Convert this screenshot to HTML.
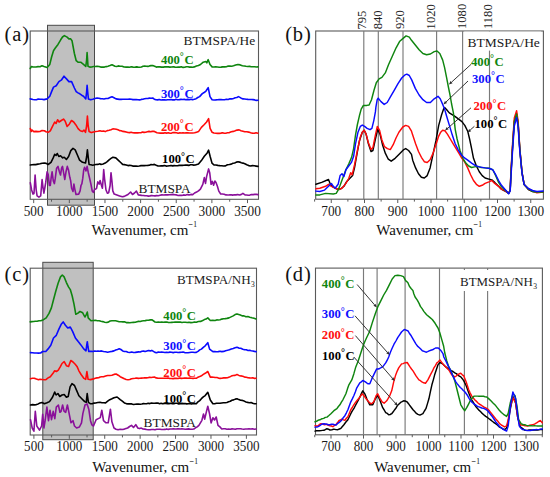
<!DOCTYPE html>
<html><head><meta charset="utf-8"><style>
html,body{margin:0;padding:0;background:#fff;}
svg{display:block;font-family:"Liberation Serif",serif;}
</style></head><body>
<svg width="550" height="477" viewBox="0 0 550 477">
<rect width="550" height="477" fill="#fff"/>
<rect x="47.5" y="25.3" width="47" height="179.9" fill="#c0c0c0" stroke="#4a4a4a" stroke-width="1"/>
<rect x="30.20" y="31.00" width="228.30" height="168.30" fill="none" stroke="#5a5a5a" stroke-width="1.1"/>
<line x1="33.70" y1="199.30" x2="33.70" y2="203.10" stroke="#5a5a5a" stroke-width="1"/>
<text x="0" y="0" transform="translate(33.70,215.50) scale(1,1.08)" font-size="13.3" text-anchor="middle" fill="#1a1a1a" >500</text>
<line x1="51.52" y1="199.30" x2="51.52" y2="201.70" stroke="#5a5a5a" stroke-width="1"/>
<line x1="69.34" y1="199.30" x2="69.34" y2="203.10" stroke="#5a5a5a" stroke-width="1"/>
<text x="0" y="0" transform="translate(69.34,215.50) scale(1,1.08)" font-size="13.3" text-anchor="middle" fill="#1a1a1a" >1000</text>
<line x1="87.15" y1="199.30" x2="87.15" y2="201.70" stroke="#5a5a5a" stroke-width="1"/>
<line x1="104.97" y1="199.30" x2="104.97" y2="203.10" stroke="#5a5a5a" stroke-width="1"/>
<text x="0" y="0" transform="translate(104.97,215.50) scale(1,1.08)" font-size="13.3" text-anchor="middle" fill="#1a1a1a" >1500</text>
<line x1="122.79" y1="199.30" x2="122.79" y2="201.70" stroke="#5a5a5a" stroke-width="1"/>
<line x1="140.61" y1="199.30" x2="140.61" y2="203.10" stroke="#5a5a5a" stroke-width="1"/>
<text x="0" y="0" transform="translate(140.61,215.50) scale(1,1.08)" font-size="13.3" text-anchor="middle" fill="#1a1a1a" >2000</text>
<line x1="158.42" y1="199.30" x2="158.42" y2="201.70" stroke="#5a5a5a" stroke-width="1"/>
<line x1="176.24" y1="199.30" x2="176.24" y2="203.10" stroke="#5a5a5a" stroke-width="1"/>
<text x="0" y="0" transform="translate(176.24,215.50) scale(1,1.08)" font-size="13.3" text-anchor="middle" fill="#1a1a1a" >2500</text>
<line x1="194.06" y1="199.30" x2="194.06" y2="201.70" stroke="#5a5a5a" stroke-width="1"/>
<line x1="211.88" y1="199.30" x2="211.88" y2="203.10" stroke="#5a5a5a" stroke-width="1"/>
<text x="0" y="0" transform="translate(211.88,215.50) scale(1,1.08)" font-size="13.3" text-anchor="middle" fill="#1a1a1a" >3000</text>
<line x1="229.69" y1="199.30" x2="229.69" y2="201.70" stroke="#5a5a5a" stroke-width="1"/>
<line x1="247.51" y1="199.30" x2="247.51" y2="203.10" stroke="#5a5a5a" stroke-width="1"/>
<text x="0" y="0" transform="translate(247.51,215.50) scale(1,1.08)" font-size="13.3" text-anchor="middle" fill="#1a1a1a" >3500</text>
<polyline points="30.2,68.5 31.5,66.5 33.0,67.0 36.0,67.0 38.0,66.6 40.0,66.8 42.0,65.8 44.0,66.6 47.1,67.6 49.8,64.4 51.6,57.0 53.5,50.7 55.3,48.0 58.0,44.4 60.7,39.8 62.5,37.0 64.4,35.6 67.1,37.1 68.9,38.9 70.7,38.9 72.0,40.7 74.4,53.5 76.2,60.7 78.0,62.2 80.7,62.2 83.5,64.4 85.8,66.5 86.6,60.0 87.1,52.5 87.6,60.0 88.0,66.2 89.8,67.1 91.7,67.0 93.5,66.5 95.3,66.5 97.1,66.2 98.9,66.5 100.7,67.1 102.6,67.1 104.4,67.1 106.2,66.6 108.0,66.2 110.0,65.6 112.0,64.7 115.0,66.3 116.7,66.5 118.3,65.9 120.0,66.2 122.1,66.2 124.1,67.0 126.2,67.1 127.9,67.1 129.6,67.3 131.3,66.8 133.1,67.1 134.8,67.3 136.5,66.9 138.2,67.1 139.8,67.2 141.4,67.0 143.0,66.3 144.6,66.1 146.3,66.3 147.9,66.4 149.5,65.9 151.1,65.6 152.7,65.6 154.6,66.3 156.4,67.1 158.1,66.8 159.8,66.9 161.5,67.1 163.2,67.1 164.9,66.9 166.5,66.9 168.2,66.9 169.9,67.1 171.6,67.0 173.3,66.8 175.0,67.1 176.6,67.3 178.2,67.1 179.8,67.1 181.4,66.8 183.0,67.4 184.7,67.3 186.3,66.7 187.9,66.8 189.5,67.1 191.1,67.1 192.7,67.2 194.3,66.9 196.4,66.0 198.4,65.5 200.5,64.5 203.2,62.2 205.8,61.5 206.8,62.8 208.2,59.7 210.0,64.5 212.1,66.9 213.9,67.0 215.7,66.8 217.5,67.0 219.2,67.2 221.0,67.1 222.8,66.9 224.6,66.9 226.4,66.7 228.2,66.1 229.9,66.1 231.7,66.2 233.5,65.8 235.7,65.1 237.9,64.5 240.2,64.9 242.4,65.8 244.2,66.0 246.0,66.3 247.7,66.5 249.5,66.4 251.3,66.7 253.0,66.7 254.7,66.8 256.3,67.0 258.0,66.9" fill="none" stroke="#0f850f" stroke-width="1.6" stroke-linejoin="round" stroke-linecap="round"/>
<polyline points="30.2,98.9 33.0,99.5 34.8,99.8 36.5,99.7 38.2,99.0 40.0,99.3 42.0,99.2 44.0,99.6 47.1,98.9 49.8,96.2 51.6,91.6 53.5,87.1 56.2,85.8 58.9,81.6 61.6,79.8 64.0,76.2 66.5,78.9 68.9,81.6 71.6,81.6 74.4,88.0 76.2,91.6 78.0,92.9 79.8,93.8 81.7,95.2 83.5,96.2 85.8,98.9 86.6,92.0 87.1,85.3 87.7,92.0 88.4,98.9 90.7,99.8 92.8,99.3 95.0,98.5 97.1,98.0 98.8,98.3 100.5,98.6 102.3,98.8 104.0,99.0 106.0,98.5 108.0,98.5 110.0,97.6 112.0,96.7 114.0,97.7 116.0,98.9 117.7,99.1 119.4,99.4 121.1,99.4 122.8,99.2 124.5,99.2 126.2,99.3 127.9,99.2 129.6,99.1 131.3,99.2 132.9,99.6 134.6,99.5 136.3,99.6 138.0,99.8 139.6,99.9 141.3,99.4 142.9,99.2 144.5,98.8 146.2,98.5 147.8,98.5 149.4,98.1 151.1,98.2 152.7,98.0 154.3,99.2 156.0,99.8 157.7,99.9 159.3,99.5 161.0,100.0 162.7,99.9 164.3,99.9 166.0,100.0 167.7,99.8 169.3,99.8 171.0,99.5 172.7,99.9 174.3,99.9 176.0,99.3 177.6,99.7 179.3,99.6 181.0,99.4 182.6,99.5 184.3,99.4 186.0,99.7 187.6,99.4 189.3,99.6 191.0,99.2 192.6,99.6 194.3,99.3 196.1,98.7 197.8,97.5 199.6,96.6 202.3,93.6 204.1,92.5 205.8,91.3 208.2,87.7 210.0,96.6 212.1,99.7 213.9,100.0 215.7,99.9 217.5,99.7 219.2,99.5 221.0,99.6 222.8,99.8 224.6,99.7 226.4,99.2 228.2,99.5 229.9,98.8 231.7,98.9 233.5,98.4 235.2,97.7 236.8,97.5 238.5,96.6 240.8,97.9 243.0,98.9 244.7,99.0 246.3,99.2 248.0,99.4 249.7,99.5 251.3,99.5 253.0,99.6 254.7,99.9 256.3,100.4 258.0,100.2" fill="none" stroke="#0a0aff" stroke-width="1.6" stroke-linejoin="round" stroke-linecap="round"/>
<polyline points="30.3,128.5 31.2,131.5 32.0,130.0 33.8,131.6 35.9,131.4 37.9,131.6 40.0,131.5 42.0,130.6 44.4,130.8 46.0,131.8 48.1,132.3 50.3,130.8 52.5,126.4 54.7,122.0 56.1,123.5 57.6,119.8 59.1,122.0 61.3,120.5 63.5,119.1 65.2,121.3 67.1,126.4 69.3,124.2 71.5,120.5 73.7,122.0 75.9,124.9 78.1,128.6 80.3,130.8 82.5,131.5 84.0,130.1 85.5,132.3 86.6,126.0 87.4,116.1 88.2,126.0 89.1,131.5 91.3,132.6 93.5,132.0 95.7,131.5 97.8,131.2 100.0,130.8 101.7,131.2 103.5,131.0 105.2,131.6 107.2,130.6 109.1,130.3 111.0,129.8 112.9,128.9 114.6,129.0 116.3,129.3 118.0,129.8 119.6,130.6 121.2,130.7 122.9,131.4 124.5,131.6 126.2,132.0 128.0,132.5 129.6,132.6 131.2,132.3 132.8,132.7 134.5,132.9 136.1,132.7 137.7,132.9 139.3,132.8 140.9,132.7 142.5,132.1 144.1,132.4 145.7,132.2 147.4,131.8 149.0,131.4 150.6,131.8 152.2,131.4 153.8,131.2 157.0,132.8 158.6,133.0 160.2,133.1 161.9,133.0 163.5,133.1 165.1,132.8 166.7,133.1 168.4,132.8 170.0,133.2 171.6,133.1 173.2,132.6 174.8,132.6 176.5,132.7 178.1,133.2 179.7,132.9 181.3,133.0 183.0,132.8 184.6,133.0 186.2,132.9 187.8,132.9 189.5,133.0 191.1,133.0 192.7,133.0 194.6,132.8 196.6,132.2 198.5,131.6 201.4,127.4 204.3,124.5 206.6,122.0 208.6,118.7 210.1,128.3 212.0,132.2 213.9,133.0 215.9,133.2 217.6,133.4 219.2,133.4 220.9,133.1 222.5,132.7 224.2,133.2 225.8,133.2 227.5,132.8 229.4,132.6 231.3,131.8 233.3,131.4 235.2,130.8 237.1,130.1 239.1,129.9 241.0,130.8 242.9,131.2 244.8,131.7 246.8,131.8 248.7,132.1 250.6,132.8 252.4,133.1 254.3,133.3 256.1,132.8 258.0,133.2" fill="none" stroke="#ff0a0a" stroke-width="1.6" stroke-linejoin="round" stroke-linecap="round"/>
<polyline points="30.3,165.0 32.1,164.7 33.9,164.5 35.7,164.6 37.9,164.1 40.0,163.8 42.2,163.2 44.4,163.0 46.2,163.4 48.1,164.5 51.0,162.3 53.2,157.9 54.7,154.3 56.1,155.4 57.3,153.5 58.8,156.5 60.5,155.7 62.7,157.9 64.2,157.2 66.4,159.4 68.6,156.5 70.8,150.6 73.0,148.4 75.2,149.9 77.4,155.0 79.6,160.1 82.5,162.3 85.5,163.0 86.6,157.0 87.4,149.9 88.2,157.0 89.1,164.5 90.9,164.8 92.8,165.2 95.7,164.5 97.8,164.4 100.0,163.8 101.0,164.5 103.1,164.0 105.2,163.1 107.2,161.6 109.1,159.8 111.0,158.4 112.9,157.3 115.8,157.9 118.7,160.6 120.7,162.5 122.6,164.4 124.4,164.6 126.2,165.0 128.0,165.6 129.6,165.4 131.2,165.5 132.8,166.1 134.5,166.1 136.1,166.1 137.7,166.2 139.3,166.0 141.0,165.6 142.7,165.5 144.3,165.6 146.0,165.5 147.7,165.4 149.4,165.2 151.0,164.5 152.7,164.7 154.4,164.4 156.2,165.3 158.0,166.0 159.6,166.0 161.2,165.7 162.9,165.9 164.5,165.5 166.1,166.1 167.7,166.0 169.4,165.7 171.0,165.5 172.6,165.9 174.2,165.6 175.8,165.8 177.5,165.7 179.1,165.4 180.7,165.3 182.3,165.4 183.9,165.3 185.6,165.0 187.2,165.1 188.8,165.4 190.4,164.8 192.1,164.8 193.7,165.1 195.3,165.0 198.5,164.1 201.4,160.6 204.3,156.3 207.2,152.9 208.6,150.2 210.1,156.3 212.0,163.1 214.0,165.0 215.9,165.0 217.8,165.4 219.8,165.6 221.7,165.7 223.6,166.0 225.5,165.9 227.4,164.8 229.4,164.5 231.3,164.1 233.0,163.3 234.7,163.0 236.4,162.1 238.1,161.7 239.7,162.1 241.3,162.8 242.9,163.1 244.8,163.8 246.8,164.8 248.7,165.6 250.6,166.0 252.4,165.6 254.3,165.8 256.1,166.1 258.0,166.4" fill="none" stroke="#000000" stroke-width="1.6" stroke-linejoin="round" stroke-linecap="round"/>
<polyline points="30.3,182.7 31.6,190.0 33.0,194.1 34.0,193.5 35.1,175.0 36.2,190.0 37.1,195.9 38.9,197.1 40.7,195.9 42.1,179.5 43.0,187.3 43.9,193.2 44.8,188.0 45.7,182.7 47.1,171.8 48.2,174.5 49.4,185.5 50.3,185.5 51.2,177.3 52.1,171.8 53.3,180.9 54.4,183.6 55.3,178.2 56.6,168.2 58.0,166.4 59.4,171.8 60.5,175.0 61.6,168.2 62.5,166.4 63.6,172.7 64.8,179.5 66.0,171.8 67.3,166.4 68.5,170.0 69.8,177.3 70.7,180.9 71.6,188.2 73.0,191.4 73.9,184.1 74.8,189.1 76.0,194.5 78.7,194.1 80.1,190.9 81.0,185.5 81.9,183.6 82.8,178.2 83.7,170.0 84.6,167.3 86.0,170.9 87.1,166.4 88.3,172.7 89.6,178.2 91.0,184.5 92.2,190.9 93.3,192.3 94.6,189.5 96.5,188.6 97.8,181.8 99.2,184.1 100.1,180.5 101.5,185.5 102.4,188.2 103.3,176.4 103.7,169.5 104.6,179.1 106.0,190.0 107.4,193.2 108.7,192.7 110.1,185.5 111.0,172.7 111.9,180.9 112.8,190.9 114.2,194.1 116.9,195.0 119.6,195.9 122.4,196.8 124.2,196.4 126.0,195.5 128.0,194.5 130.6,192.0 132.5,194.5 134.5,193.0 136.4,191.1 138.3,194.9 140.0,195.1 141.6,195.4 143.3,195.5 145.0,195.8 146.7,195.8 148.3,196.1 150.0,195.9 151.7,195.5 153.3,195.7 155.0,195.9 156.7,195.6 158.3,195.7 160.0,195.3 161.9,194.9 163.7,195.0 165.6,194.8 167.5,194.9 169.3,194.8 171.2,194.6 173.0,194.4 174.7,194.7 176.5,194.9 178.2,195.5 180.0,195.3 181.8,195.4 183.6,194.9 185.4,195.2 187.3,194.6 189.1,194.9 190.9,194.4 192.7,194.6 194.6,193.0 196.6,192.0 198.5,190.9 200.4,189.2 202.8,184.3 204.3,177.6 205.5,183.4 206.6,176.6 208.6,168.9 209.7,172.7 211.1,184.3 212.4,181.4 213.6,185.3 214.9,181.0 216.0,182.5 217.4,186.3 218.8,191.1 220.7,194.0 222.4,194.0 224.2,194.2 225.9,194.9 227.7,195.0 229.4,194.9 231.1,194.7 232.7,195.1 234.4,194.8 236.0,194.9 237.7,194.5 239.3,195.0 241.0,194.6 242.9,193.4 245.0,194.9 246.6,195.0 248.2,195.2 249.9,195.1 251.5,194.6 253.1,194.6 254.8,194.4 256.4,194.4 258.0,194.6" fill="none" stroke="#8a109a" stroke-width="1.6" stroke-linejoin="round" stroke-linecap="round"/>
<text x="183.50" y="44.90" font-size="13.4" text-anchor="start" fill="#1a1a1a" >BTMSPA/He</text>
<text x="0" y="0" transform="translate(160.90,64.00) scale(1,1.04)" font-size="12.7" text-anchor="start" fill="#0f850f" font-weight="bold" >400<tspan font-size="10" dx="-0.1" dy="-3.4">&#176;</tspan><tspan dx="0.6" dy="3.4">C</tspan></text>
<text x="0" y="0" transform="translate(160.90,97.50) scale(1,1.04)" font-size="12.7" text-anchor="start" fill="#1010ff" font-weight="bold" >300<tspan font-size="10" dx="-0.1" dy="-3.4">&#176;</tspan><tspan dx="0.6" dy="3.4">C</tspan></text>
<text x="0" y="0" transform="translate(160.90,130.70) scale(1,1.04)" font-size="12.7" text-anchor="start" fill="#ff1010" font-weight="bold" >200<tspan font-size="10" dx="-0.1" dy="-3.4">&#176;</tspan><tspan dx="0.6" dy="3.4">C</tspan></text>
<text x="0" y="0" transform="translate(162.10,163.40) scale(1,1.04)" font-size="12.7" text-anchor="start" fill="#000000" font-weight="bold" >100<tspan font-size="10" dx="-0.1" dy="-3.4">&#176;</tspan><tspan dx="0.6" dy="3.4">C</tspan></text>
<text x="138.50" y="193.20" font-size="13.35" text-anchor="start" fill="#1a1a1a" >BTMSPA</text>
<text x="4.60" y="41.00" font-size="20.5" text-anchor="start" fill="#111" letter-spacing="0.85">(a)</text>
<text x="0" y="0" transform="translate(91.40,235.30) scale(1,1.04)" font-size="14.95" text-anchor="start" fill="#111" >Wavenumer, cm<tspan font-size="8.2" font-weight="bold" dx="0.2" dy="-7.6">&#8722;</tspan><tspan font-size="7.6" dx="0.1">1</tspan></text>
<rect x="42.8" y="262.3" width="50.4" height="177.4" fill="#c0c0c0" stroke="#4a4a4a" stroke-width="1"/>
<rect x="30.20" y="268.20" width="226.30" height="166.80" fill="none" stroke="#5a5a5a" stroke-width="1.1"/>
<line x1="33.90" y1="435.00" x2="33.90" y2="438.80" stroke="#5a5a5a" stroke-width="1"/>
<text x="0" y="0" transform="translate(33.90,450.70) scale(1,1.04)" font-size="13.1" text-anchor="middle" fill="#1a1a1a" >500</text>
<line x1="51.61" y1="435.00" x2="51.61" y2="437.40" stroke="#5a5a5a" stroke-width="1"/>
<line x1="69.31" y1="435.00" x2="69.31" y2="438.80" stroke="#5a5a5a" stroke-width="1"/>
<text x="0" y="0" transform="translate(69.31,450.70) scale(1,1.04)" font-size="13.1" text-anchor="middle" fill="#1a1a1a" >1000</text>
<line x1="87.02" y1="435.00" x2="87.02" y2="437.40" stroke="#5a5a5a" stroke-width="1"/>
<line x1="104.73" y1="435.00" x2="104.73" y2="438.80" stroke="#5a5a5a" stroke-width="1"/>
<text x="0" y="0" transform="translate(104.73,450.70) scale(1,1.04)" font-size="13.1" text-anchor="middle" fill="#1a1a1a" >1500</text>
<line x1="122.44" y1="435.00" x2="122.44" y2="437.40" stroke="#5a5a5a" stroke-width="1"/>
<line x1="140.15" y1="435.00" x2="140.15" y2="438.80" stroke="#5a5a5a" stroke-width="1"/>
<text x="0" y="0" transform="translate(140.15,450.70) scale(1,1.04)" font-size="13.1" text-anchor="middle" fill="#1a1a1a" >2000</text>
<line x1="157.85" y1="435.00" x2="157.85" y2="437.40" stroke="#5a5a5a" stroke-width="1"/>
<line x1="175.56" y1="435.00" x2="175.56" y2="438.80" stroke="#5a5a5a" stroke-width="1"/>
<text x="0" y="0" transform="translate(175.56,450.70) scale(1,1.04)" font-size="13.1" text-anchor="middle" fill="#1a1a1a" >2500</text>
<line x1="193.27" y1="435.00" x2="193.27" y2="437.40" stroke="#5a5a5a" stroke-width="1"/>
<line x1="210.98" y1="435.00" x2="210.98" y2="438.80" stroke="#5a5a5a" stroke-width="1"/>
<text x="0" y="0" transform="translate(210.98,450.70) scale(1,1.04)" font-size="13.1" text-anchor="middle" fill="#1a1a1a" >3000</text>
<line x1="228.68" y1="435.00" x2="228.68" y2="437.40" stroke="#5a5a5a" stroke-width="1"/>
<line x1="246.39" y1="435.00" x2="246.39" y2="438.80" stroke="#5a5a5a" stroke-width="1"/>
<text x="0" y="0" transform="translate(246.39,450.70) scale(1,1.04)" font-size="13.1" text-anchor="middle" fill="#1a1a1a" >3500</text>
<polyline points="30.2,321.9 31.9,321.6 33.6,321.5 35.3,321.2 37.1,321.3 39.0,320.8 40.8,320.7 43.5,319.7 46.2,317.9 49.0,313.4 51.4,307.9 53.5,299.7 55.7,291.5 58.1,283.2 60.5,276.9 62.3,275.0 64.1,276.9 66.3,282.3 68.5,286.9 70.3,289.6 72.2,296.0 74.0,304.2 75.8,314.3 77.6,313.4 80.0,311.5 82.7,312.8 84.9,317.0 86.4,314.3 87.3,312.1 88.2,317.9 91.0,320.7 93.2,320.5 95.5,320.3 97.3,320.7 99.2,320.7 101.0,321.2 102.8,321.6 104.7,322.2 106.5,322.5 108.3,322.1 110.1,321.0 111.9,320.7 113.7,320.7 115.6,320.7 117.4,321.2 119.2,321.7 121.1,321.8 122.9,321.9 124.6,321.8 126.3,322.6 128.0,322.5 129.8,322.8 131.7,322.5 133.5,322.4 135.3,322.3 137.0,321.8 138.6,321.4 140.2,321.5 141.9,321.0 143.6,320.8 145.2,320.6 146.9,320.2 148.5,320.2 150.2,319.9 151.8,319.7 155.0,322.0 156.7,322.3 158.4,322.0 160.0,322.2 161.7,322.1 163.4,322.2 165.1,322.1 166.8,322.0 168.5,322.5 170.1,322.5 171.8,322.4 173.5,322.3 175.2,322.1 176.9,322.0 178.6,322.1 180.2,322.0 181.9,322.5 183.6,322.3 185.4,322.2 187.2,322.5 189.0,322.2 190.9,322.6 192.7,322.5 194.5,322.0 196.3,322.3 198.4,321.5 200.6,321.4 202.7,320.5 204.4,319.6 206.1,319.1 207.8,317.9 210.3,320.5 212.7,320.4 215.0,320.5 216.7,319.9 218.4,320.0 220.1,319.8 221.8,319.1 223.5,318.7 225.2,318.6 226.9,318.4 229.0,317.9 231.1,316.9 233.2,315.9 235.1,314.6 237.0,313.9 238.7,314.4 240.4,315.0 242.1,315.9 244.0,315.9 245.9,316.8 247.9,316.6 249.8,317.2 251.9,317.8 254.0,318.3 256.1,318.9" fill="none" stroke="#0f850f" stroke-width="1.6" stroke-linejoin="round" stroke-linecap="round"/>
<polyline points="30.5,352.6 32.5,352.7 34.4,353.0 36.4,353.0 38.5,353.1 40.6,353.0 42.7,351.5 45.8,351.5 48.1,348.9 50.8,345.3 53.5,338.0 56.3,335.3 59.0,328.9 61.2,324.3 63.2,321.9 65.4,325.2 67.8,328.0 70.3,327.0 72.7,331.6 75.4,338.0 78.2,341.6 80.9,344.9 83.7,348.9 86.0,350.8 86.6,346.0 87.3,341.7 88.0,347.0 88.8,351.5 90.9,351.2 93.0,351.5 94.7,351.0 96.4,351.2 98.0,351.0 99.7,351.2 101.4,350.9 103.5,351.5 105.6,351.8 107.7,352.2 109.8,351.8 111.9,351.4 114.0,350.9 115.7,350.0 117.5,349.5 119.2,348.8 120.9,349.5 122.7,350.9 124.4,351.5 126.2,351.5 128.0,352.2 129.8,352.5 131.7,352.0 133.5,352.5 135.3,352.4 137.0,352.1 138.6,351.9 140.2,352.0 141.9,351.3 143.6,351.1 145.2,351.5 146.9,351.0 148.5,350.5 150.2,350.9 151.8,350.4 155.0,352.4 156.7,352.7 158.3,352.1 160.0,352.3 161.6,352.1 163.3,352.3 164.9,352.5 166.6,352.2 168.2,352.5 169.9,352.1 171.5,352.2 173.2,352.6 174.8,352.3 176.5,352.3 178.1,352.5 179.8,352.4 181.4,352.3 183.1,352.1 184.7,352.6 186.4,352.7 188.0,352.7 189.7,352.5 191.3,352.3 193.0,352.3 194.6,352.5 196.3,352.4 198.0,351.4 199.7,349.9 201.4,349.1 203.3,347.3 205.2,345.8 207.8,342.7 209.6,349.1 211.2,350.3 212.9,351.6 214.7,351.6 216.5,351.8 218.2,351.6 220.0,351.3 221.8,351.6 223.7,351.4 225.6,350.7 227.5,350.3 229.4,349.8 231.3,349.0 233.2,348.5 235.1,347.8 237.0,347.3 238.9,348.1 240.8,348.3 242.8,349.2 244.7,349.8 246.3,349.8 248.0,350.5 249.6,350.2 251.2,350.7 252.8,351.0 254.5,351.4 256.1,351.6" fill="none" stroke="#0a0aff" stroke-width="1.6" stroke-linejoin="round" stroke-linecap="round"/>
<polyline points="30.5,378.8 32.4,378.3 34.3,378.2 36.4,379.1 38.5,379.8 40.0,379.3 42.0,379.5 43.9,379.7 45.9,379.6 48.1,377.9 50.3,376.7 53.2,373.0 54.7,370.8 56.4,371.5 58.3,370.1 60.5,366.4 62.0,363.5 64.2,361.7 66.4,365.7 68.6,366.4 70.8,360.5 73.0,362.0 75.2,364.2 77.0,366.4 78.9,370.8 81.1,374.5 84.0,378.4 85.7,379.3 86.9,371.5 88.1,379.3 90.6,379.6 93.5,378.9 95.2,378.3 97.0,377.9 98.7,377.8 99.3,377.3 101.4,376.7 103.5,376.7 105.6,376.1 107.7,375.5 109.8,375.5 111.9,375.2 114.0,374.4 116.1,374.0 118.2,375.2 120.2,376.7 122.3,377.7 124.4,378.8 126.2,379.5 128.0,379.8 129.8,379.5 131.5,378.7 133.2,378.5 135.0,378.3 136.6,378.0 138.2,378.4 139.8,378.2 141.5,378.1 143.1,378.0 144.7,377.9 146.3,377.9 147.9,377.7 149.6,377.2 151.2,377.5 152.8,377.2 154.4,377.1 156.2,377.9 158.0,378.3 159.7,378.3 161.3,378.3 163.0,378.2 164.7,378.3 166.3,378.2 168.0,378.0 169.7,378.5 171.3,378.5 173.0,378.6 174.7,378.4 176.3,378.3 178.0,378.5 179.6,378.0 181.3,378.4 183.0,378.3 184.6,378.1 186.3,378.1 188.0,378.3 189.6,378.1 191.3,378.3 193.0,378.4 194.6,378.2 196.3,378.3 198.0,377.2 199.7,376.6 201.4,375.8 203.3,374.4 205.2,373.3 207.8,371.5 210.3,377.1 211.9,377.1 213.6,377.2 215.2,377.5 216.9,377.5 218.5,378.1 220.2,378.4 221.8,378.3 223.7,377.9 225.6,377.9 227.5,377.7 229.4,377.1 231.3,376.1 233.2,375.5 235.1,375.4 237.0,374.5 238.9,375.4 240.8,375.9 242.8,376.2 244.7,377.1 246.3,377.2 248.0,377.7 249.6,377.9 251.2,378.0 252.8,377.7 254.5,378.4 256.1,378.3" fill="none" stroke="#ff0a0a" stroke-width="1.6" stroke-linejoin="round" stroke-linecap="round"/>
<polyline points="30.5,405.0 32.5,404.6 34.4,404.9 36.4,404.6 38.2,403.9 40.0,403.0 42.0,402.5 44.4,403.8 47.0,402.8 49.5,401.6 52.5,397.2 54.7,392.1 56.1,395.0 57.9,393.5 59.8,396.5 62.0,395.0 64.2,394.5 66.4,397.2 68.2,396.5 70.1,386.9 72.0,383.7 74.5,385.5 76.7,390.6 78.9,395.7 81.8,398.7 84.7,401.6 86.2,402.3 87.2,393.5 88.4,402.3 90.6,403.8 92.3,403.8 94.0,403.1 95.7,403.0 97.8,402.5 100.0,402.3 101.9,402.7 103.7,402.8 105.6,402.9 107.7,401.2 109.8,399.7 111.9,398.8 114.0,397.7 117.1,397.0 120.2,399.7 122.3,401.2 124.4,402.9 126.2,403.6 128.0,403.9 129.8,403.7 131.7,403.9 133.5,404.5 135.3,404.3 136.9,404.1 138.5,404.0 140.2,404.2 141.8,404.0 143.4,403.6 145.0,403.8 146.6,403.8 148.2,403.3 149.9,403.6 151.5,403.1 153.1,403.3 154.7,403.2 156.3,403.0 157.9,403.1 159.5,403.7 161.1,403.3 162.7,403.8 164.3,403.4 165.9,403.5 167.5,403.7 169.1,403.6 170.7,403.2 172.3,403.6 173.9,403.6 175.5,403.3 177.1,403.3 178.7,403.9 180.3,403.6 181.9,403.4 183.5,403.6 185.1,403.5 186.7,403.9 188.3,403.7 189.9,403.4 191.5,404.0 193.1,403.5 194.7,403.6 196.3,403.8 198.0,401.8 199.7,400.6 201.4,398.7 203.3,396.9 205.2,395.6 207.8,392.3 210.3,400.0 212.9,403.8 214.7,403.7 216.4,403.2 218.2,403.3 219.9,403.3 221.7,403.0 223.4,402.8 225.2,402.7 226.9,402.5 228.6,401.8 230.3,401.3 231.9,400.3 233.6,399.9 235.3,399.1 237.0,398.7 238.8,399.6 240.6,400.3 242.4,400.4 244.2,401.1 246.0,402.0 247.7,402.4 249.4,402.7 251.1,402.6 252.7,403.3 254.4,403.8 256.1,403.8" fill="none" stroke="#000000" stroke-width="1.6" stroke-linejoin="round" stroke-linecap="round"/>
<polyline points="30.5,419.7 32.2,428.0 33.9,431.2 35.3,411.3 36.8,426.0 39.5,430.1 41.6,426.0 42.7,414.4 43.9,428.0 45.2,420.0 46.9,407.1 48.5,420.7 50.0,410.2 51.5,419.7 53.2,411.3 54.8,418.6 56.3,407.1 58.4,405.0 59.9,412.3 61.1,411.3 62.6,405.0 64.1,411.3 65.7,412.3 67.4,405.0 68.9,412.3 71.0,422.8 73.0,420.7 74.5,426.0 76.6,428.0 79.4,427.0 81.5,422.8 82.9,413.4 85.0,405.0 87.1,403.9 88.8,409.2 90.5,420.7 91.9,424.9 93.5,426.0 96.1,419.7 98.3,418.6 100.3,417.6 101.8,410.2 103.5,420.7 106.0,422.8 108.2,422.8 110.4,409.2 111.9,421.8 114.0,428.0 116.0,429.2 118.1,429.7 120.2,429.2 122.3,429.5 124.4,429.1 127.6,428.0 129.6,426.5 131.5,425.4 133.5,427.5 135.8,424.7 137.8,428.0 139.5,428.6 141.3,428.1 143.0,429.0 144.8,429.1 146.5,429.5 148.3,429.8 150.0,429.7 151.7,429.5 153.3,429.5 155.0,429.7 156.7,429.3 158.3,429.2 160.0,429.2 161.7,429.5 163.3,429.5 165.0,429.4 166.7,428.9 168.3,429.4 170.0,429.0 171.7,429.0 173.4,428.8 175.1,429.0 176.8,428.9 178.5,428.7 180.2,429.0 181.9,428.9 183.6,429.0 185.3,429.3 187.0,429.1 188.7,428.9 190.4,429.3 192.1,429.3 193.8,429.0 195.5,427.8 197.2,426.9 198.9,425.4 201.9,420.3 203.5,414.0 204.7,419.1 206.5,411.4 207.8,406.3 209.6,414.0 211.1,422.9 212.9,417.8 214.5,420.0 216.2,417.0 218.0,425.4 219.9,426.9 221.8,429.0 223.5,428.7 225.2,428.8 226.9,429.3 228.6,429.1 230.3,429.2 232.0,428.9 233.7,429.0 235.3,429.3 237.0,428.7 238.7,428.7 240.4,428.7 242.1,429.0 243.8,429.2 245.5,429.0 247.2,429.0 249.0,428.9 250.8,429.0 252.5,428.8 254.3,429.3 256.1,429.0" fill="none" stroke="#8a109a" stroke-width="1.6" stroke-linejoin="round" stroke-linecap="round"/>
<text x="177.00" y="284.20" font-size="13.1" text-anchor="start" fill="#1a1a1a" >BTMSPA/NH<tspan font-size="7.6" dx="0.3" dy="3.2">3</tspan></text>
<text x="0" y="0" transform="translate(163.30,319.70) scale(1,1.04)" font-size="12.7" text-anchor="start" fill="#0f850f" font-weight="bold" >400<tspan font-size="10" dx="-0.1" dy="-3.4">&#176;</tspan><tspan dx="0.6" dy="3.4">C</tspan></text>
<text x="0" y="0" transform="translate(163.30,350.30) scale(1,1.04)" font-size="12.7" text-anchor="start" fill="#1010ff" font-weight="bold" >300<tspan font-size="10" dx="-0.1" dy="-3.4">&#176;</tspan><tspan dx="0.6" dy="3.4">C</tspan></text>
<text x="0" y="0" transform="translate(163.30,376.60) scale(1,1.04)" font-size="12.7" text-anchor="start" fill="#ff1010" font-weight="bold" >200<tspan font-size="10" dx="-0.1" dy="-3.4">&#176;</tspan><tspan dx="0.6" dy="3.4">C</tspan></text>
<text x="0" y="0" transform="translate(163.30,402.50) scale(1,1.04)" font-size="12.7" text-anchor="start" fill="#000000" font-weight="bold" >100<tspan font-size="10" dx="-0.1" dy="-3.4">&#176;</tspan><tspan dx="0.6" dy="3.4">C</tspan></text>
<text x="143.60" y="426.60" font-size="13.35" text-anchor="start" fill="#1a1a1a" >BTMSPA</text>
<text x="4.60" y="281.40" font-size="20.5" text-anchor="start" fill="#111" letter-spacing="0.85">(c)</text>
<text x="0" y="0" transform="translate(92.20,471.80) scale(1,1.04)" font-size="14.95" text-anchor="start" fill="#111" >Wavenumer, cm<tspan font-size="8.2" font-weight="bold" dx="0.2" dy="-7.6">&#8722;</tspan><tspan font-size="7.6" dx="0.1">1</tspan></text>
<rect x="315.70" y="31.00" width="227.70" height="168.20" fill="none" stroke="#5a5a5a" stroke-width="1.1"/>
<line x1="314.62" y1="199.20" x2="314.62" y2="201.60" stroke="#5a5a5a" stroke-width="1"/>
<line x1="331.25" y1="199.20" x2="331.25" y2="203.00" stroke="#5a5a5a" stroke-width="1"/>
<text x="0" y="0" transform="translate(331.25,215.50) scale(1,1.08)" font-size="13.3" text-anchor="middle" fill="#1a1a1a" >700</text>
<line x1="347.88" y1="199.20" x2="347.88" y2="201.60" stroke="#5a5a5a" stroke-width="1"/>
<line x1="364.50" y1="199.20" x2="364.50" y2="203.00" stroke="#5a5a5a" stroke-width="1"/>
<text x="0" y="0" transform="translate(364.50,215.50) scale(1,1.08)" font-size="13.3" text-anchor="middle" fill="#1a1a1a" >800</text>
<line x1="381.12" y1="199.20" x2="381.12" y2="201.60" stroke="#5a5a5a" stroke-width="1"/>
<line x1="397.75" y1="199.20" x2="397.75" y2="203.00" stroke="#5a5a5a" stroke-width="1"/>
<text x="0" y="0" transform="translate(397.75,215.50) scale(1,1.08)" font-size="13.3" text-anchor="middle" fill="#1a1a1a" >900</text>
<line x1="414.38" y1="199.20" x2="414.38" y2="201.60" stroke="#5a5a5a" stroke-width="1"/>
<line x1="431.00" y1="199.20" x2="431.00" y2="203.00" stroke="#5a5a5a" stroke-width="1"/>
<text x="0" y="0" transform="translate(431.00,215.50) scale(1,1.08)" font-size="13.3" text-anchor="middle" fill="#1a1a1a" >1000</text>
<line x1="447.62" y1="199.20" x2="447.62" y2="201.60" stroke="#5a5a5a" stroke-width="1"/>
<line x1="464.25" y1="199.20" x2="464.25" y2="203.00" stroke="#5a5a5a" stroke-width="1"/>
<text x="0" y="0" transform="translate(464.25,215.50) scale(1,1.08)" font-size="13.3" text-anchor="middle" fill="#1a1a1a" >1100</text>
<line x1="480.88" y1="199.20" x2="480.88" y2="201.60" stroke="#5a5a5a" stroke-width="1"/>
<line x1="497.50" y1="199.20" x2="497.50" y2="203.00" stroke="#5a5a5a" stroke-width="1"/>
<text x="0" y="0" transform="translate(497.50,215.50) scale(1,1.08)" font-size="13.3" text-anchor="middle" fill="#1a1a1a" >1200</text>
<line x1="514.12" y1="199.20" x2="514.12" y2="201.60" stroke="#5a5a5a" stroke-width="1"/>
<line x1="530.75" y1="199.20" x2="530.75" y2="203.00" stroke="#5a5a5a" stroke-width="1"/>
<text x="0" y="0" transform="translate(530.75,215.50) scale(1,1.08)" font-size="13.3" text-anchor="middle" fill="#1a1a1a" >1300</text>
<line x1="363.80" y1="31.00" x2="363.80" y2="199.20" stroke="#7a7a7a" stroke-width="1.15"/>
<text x="0" y="0" font-size="12.6" fill="#222" transform="translate(365.70,29.60) rotate(-90) scale(1,0.92)">795</text>
<line x1="378.30" y1="31.00" x2="378.30" y2="199.20" stroke="#7a7a7a" stroke-width="1.15"/>
<text x="0" y="0" font-size="12.6" fill="#222" transform="translate(381.70,29.30) rotate(-90) scale(1,0.92)">840</text>
<line x1="403.00" y1="31.00" x2="403.00" y2="199.20" stroke="#7a7a7a" stroke-width="1.15"/>
<text x="0" y="0" font-size="12.6" fill="#222" transform="translate(404.00,29.10) rotate(-90) scale(1,0.92)">920</text>
<line x1="436.60" y1="31.00" x2="436.60" y2="199.20" stroke="#7a7a7a" stroke-width="1.15"/>
<text x="0" y="0" font-size="12.6" fill="#222" transform="translate(435.20,29.40) rotate(-90) scale(1,0.92)">1020</text>
<line x1="462.60" y1="31.00" x2="462.60" y2="199.20" stroke="#7a7a7a" stroke-width="1.15"/>
<text x="0" y="0" font-size="12.6" fill="#222" transform="translate(465.50,29.00) rotate(-90) scale(1,0.92)">1080</text>
<line x1="489.50" y1="31.00" x2="489.50" y2="199.20" stroke="#7a7a7a" stroke-width="1.15"/>
<text x="0" y="0" font-size="12.6" fill="#222" transform="translate(492.20,29.00) rotate(-90) scale(1,0.92)">1180</text>
<polyline points="315.9,184.3 321.7,182.4 328.5,179.5 330.4,184.3 333.3,187.2 337.2,189.2 341.0,188.8 343.9,186.3 346.8,181.4 349.7,178.5 352.6,175.6 354.5,167.9 356.9,154.4 359.4,140.9 362.3,132.2 364.2,130.3 366.1,134.1 368.4,143.8 371.0,151.5 372.9,150.5 375.4,139.0 377.7,129.3 380.0,134.1 382.5,144.7 385.4,153.4 388.3,159.2 391.2,161.2 395.1,158.3 398.9,154.4 403.8,149.6 405.7,148.6 408.6,150.5 411.5,154.4 412.7,160.2 415.6,167.9 418.5,173.7 421.4,177.2 424.3,178.0 427.2,175.6 430.1,167.9 433.0,154.4 435.9,140.9 438.7,125.4 441.6,114.8 443.6,109.0 444.6,107.6 446.5,109.5 449.3,112.9 454.2,115.8 458.0,118.7 461.9,121.6 464.8,125.4 467.7,131.2 469.6,139.0 471.6,148.6 473.5,158.3 476.4,166.0 479.3,171.8 482.2,175.6 485.1,178.0 488.9,179.1 491.8,179.9 494.7,182.4 498.6,186.3 501.5,189.2 504.0,190.7 506.0,191.5 508.7,193.3 510.2,190.0 510.9,174.0 512.6,146.0 514.3,121.0 516.6,113.9 518.1,123.0 519.8,149.0 522.0,172.6 524.1,184.4 528.4,189.5 532.6,191.5 536.9,192.0 543.3,191.8" fill="none" stroke="#000000" stroke-width="1.45" stroke-linejoin="round" stroke-linecap="round"/>
<polyline points="315.9,188.8 319.8,188.2 325.6,186.3 328.5,184.3 331.4,186.3 335.2,188.2 339.1,189.5 342.0,188.2 345.9,183.4 348.7,178.5 350.7,172.7 352.2,174.7 354.5,165.0 357.4,150.5 360.3,137.0 362.3,132.2 364.2,130.3 366.1,134.1 368.4,142.8 371.0,149.6 372.9,147.6 375.4,135.1 377.3,126.4 379.6,130.3 381.9,139.9 384.5,146.7 387.4,148.6 390.3,149.6 393.2,144.7 396.0,138.0 398.9,132.2 402.8,127.0 405.7,125.4 408.6,126.4 411.5,131.2 412.7,135.1 415.6,143.8 418.5,151.5 421.4,157.3 424.3,161.7 427.2,162.5 430.1,159.8 433.0,153.4 434.9,147.6 436.8,141.9 438.7,136.1 440.7,132.2 442.6,130.3 444.9,130.8 447.4,134.1 450.3,139.0 453.2,143.8 456.1,148.6 459.0,153.4 461.9,158.3 464.8,162.1 467.7,167.9 470.6,174.7 473.5,180.5 476.4,184.3 479.3,186.3 482.2,185.3 485.1,183.4 488.9,181.8 491.8,180.5 494.7,183.4 498.6,186.3 501.5,189.2 504.0,190.1 506.0,191.5 508.7,193.0 510.2,190.0 510.9,172.0 512.6,143.0 514.3,118.0 516.6,110.7 518.1,121.0 519.8,148.0 522.0,172.0 524.1,184.4 528.4,189.0 532.6,191.0 536.9,192.8 543.3,192.0" fill="none" stroke="#ff0a0a" stroke-width="1.45" stroke-linejoin="round" stroke-linecap="round"/>
<polyline points="315.9,194.9 319.8,194.9 325.6,193.4 333.3,194.0 336.2,193.4 338.1,190.1 340.1,185.3 343.0,177.6 345.9,169.8 348.7,164.1 351.6,157.3 353.6,148.6 355.5,135.1 357.4,124.5 359.4,115.8 361.2,109.1 363.4,105.4 366.8,105.4 369.1,105.0 371.5,99.7 374.0,90.3 376.3,82.7 379.1,78.9 381.9,77.4 385.3,72.9 388.5,64.8 392.3,56.3 396.1,47.8 399.8,41.2 403.1,38.4 406.1,35.9 409.3,37.1 411.5,40.3 415.3,45.0 419.1,49.7 422.9,53.5 426.6,54.8 430.4,54.0 434.2,51.6 437.0,51.0 439.8,53.5 442.7,60.1 444.6,67.6 446.5,77.1 448.3,86.5 450.2,95.9 451.5,103.5 453.4,112.9 455.2,129.3 457.1,139.0 460.0,150.5 462.9,158.3 465.8,163.1 468.7,166.0 471.6,167.5 474.5,166.9 477.4,166.4 481.2,167.5 485.1,167.9 488.9,168.3 492.8,169.8 495.7,175.6 498.6,182.4 501.5,186.8 504.0,189.2 505.9,190.8 508.7,193.5 510.2,190.0 510.9,175.0 512.6,147.0 514.3,122.0 516.6,114.0 518.1,124.0 519.8,149.1 522.0,172.6 524.1,184.4 528.4,189.0 532.6,191.5 536.9,192.0 543.3,192.0" fill="none" stroke="#0f850f" stroke-width="1.45" stroke-linejoin="round" stroke-linecap="round"/>
<polyline points="315.9,191.1 319.8,191.5 324.6,190.1 328.5,186.3 331.4,183.4 333.3,186.3 335.2,188.2 338.1,184.3 340.1,175.6 342.0,173.7 343.9,176.6 345.9,169.8 348.7,166.0 351.6,162.1 353.6,156.3 355.5,143.8 358.0,132.2 360.3,126.4 362.3,125.1 364.6,126.4 367.1,128.3 370.0,129.7 371.9,128.3 373.8,120.6 375.4,111.9 375.9,107.2 377.2,99.7 378.2,98.2 381.0,101.6 384.2,104.4 387.2,102.5 390.4,96.9 394.2,90.3 398.0,83.7 401.7,78.0 404.6,75.2 406.8,74.2 409.3,75.5 411.7,79.9 415.3,88.4 419.1,95.0 422.9,99.7 426.6,102.5 430.4,102.5 434.2,98.8 438.0,96.3 440.2,98.8 442.7,104.4 444.6,109.1 446.5,115.8 449.4,125.4 452.3,135.1 455.2,143.8 458.1,149.6 461.0,154.4 463.8,157.3 467.7,160.2 471.6,163.1 475.4,165.6 479.3,166.9 485.1,167.9 489.9,168.5 492.8,169.8 495.7,174.7 498.6,180.5 501.5,185.3 504.0,188.2 506.0,190.5 508.7,193.8 510.2,191.0 510.9,178.0 512.6,150.0 514.3,126.0 516.6,117.5 518.1,127.0 519.8,151.0 522.0,173.0 524.1,184.4 528.4,188.5 532.6,190.5 536.9,191.5 543.3,191.0" fill="none" stroke="#0a0aff" stroke-width="1.45" stroke-linejoin="round" stroke-linecap="round"/>
<rect x="464.2" y="31.6" width="77" height="19" fill="#fff"/>
<text x="467.60" y="46.80" font-size="13.5" text-anchor="start" fill="#1a1a1a" >BTMSPA/He</text>
<line x1="471.00" y1="64.40" x2="451.56" y2="82.17" stroke="#2a2a2a" stroke-width="0.95"/><polygon points="448.90,84.60 450.55,81.06 452.57,83.28" fill="#2a2a2a"/>
<line x1="468.00" y1="81.00" x2="446.00" y2="102.01" stroke="#2a2a2a" stroke-width="0.95"/><polygon points="443.40,104.50 444.97,100.93 447.04,103.10" fill="#2a2a2a"/>
<line x1="471.00" y1="107.80" x2="447.71" y2="128.23" stroke="#2a2a2a" stroke-width="0.95"/><polygon points="445.00,130.60 446.72,127.10 448.70,129.35" fill="#2a2a2a"/>
<line x1="474.40" y1="126.30" x2="470.20" y2="130.02" stroke="#2a2a2a" stroke-width="0.95"/><polygon points="467.50,132.40 469.20,128.89 471.19,131.14" fill="#2a2a2a"/>
<text x="0" y="0" transform="translate(471.00,65.70) scale(1,1.04)" font-size="12.7" text-anchor="start" fill="#0f850f" font-weight="bold" >400<tspan font-size="10" dx="-0.1" dy="-3.4">&#176;</tspan><tspan dx="0.6" dy="3.4">C</tspan></text>
<text x="0" y="0" transform="translate(472.00,82.70) scale(1,1.04)" font-size="12.7" text-anchor="start" fill="#1010ff" font-weight="bold" >300<tspan font-size="10" dx="-0.1" dy="-3.4">&#176;</tspan><tspan dx="0.6" dy="3.4">C</tspan></text>
<text x="0" y="0" transform="translate(473.50,110.10) scale(1,1.04)" font-size="12.7" text-anchor="start" fill="#ff1010" font-weight="bold" >200<tspan font-size="10" dx="-0.1" dy="-3.4">&#176;</tspan><tspan dx="0.6" dy="3.4">C</tspan></text>
<text x="0" y="0" transform="translate(474.50,127.80) scale(1,1.04)" font-size="12.7" text-anchor="start" fill="#000000" font-weight="bold" >100<tspan font-size="10" dx="-0.1" dy="-3.4">&#176;</tspan><tspan dx="0.6" dy="3.4">C</tspan></text>
<text x="285.20" y="41.00" font-size="20.5" text-anchor="start" fill="#111" letter-spacing="0.85">(b)</text>
<text x="0" y="0" transform="translate(376.30,235.20) scale(1,1.04)" font-size="14.95" text-anchor="start" fill="#111" >Wavenumer, cm<tspan font-size="8.2" font-weight="bold" dx="0.2" dy="-7.6">&#8722;</tspan><tspan font-size="7.6" dx="0.1">1</tspan></text>
<rect x="315.50" y="268.10" width="226.90" height="166.70" fill="none" stroke="#5a5a5a" stroke-width="1.1"/>
<line x1="314.75" y1="434.80" x2="314.75" y2="437.20" stroke="#5a5a5a" stroke-width="1"/>
<line x1="331.00" y1="434.80" x2="331.00" y2="438.60" stroke="#5a5a5a" stroke-width="1"/>
<text x="0" y="0" transform="translate(331.00,450.70) scale(1,1.04)" font-size="13.1" text-anchor="middle" fill="#1a1a1a" >700</text>
<line x1="347.25" y1="434.80" x2="347.25" y2="437.20" stroke="#5a5a5a" stroke-width="1"/>
<line x1="363.50" y1="434.80" x2="363.50" y2="438.60" stroke="#5a5a5a" stroke-width="1"/>
<text x="0" y="0" transform="translate(363.50,450.70) scale(1,1.04)" font-size="13.1" text-anchor="middle" fill="#1a1a1a" >800</text>
<line x1="379.75" y1="434.80" x2="379.75" y2="437.20" stroke="#5a5a5a" stroke-width="1"/>
<line x1="396.00" y1="434.80" x2="396.00" y2="438.60" stroke="#5a5a5a" stroke-width="1"/>
<text x="0" y="0" transform="translate(396.00,450.70) scale(1,1.04)" font-size="13.1" text-anchor="middle" fill="#1a1a1a" >900</text>
<line x1="412.25" y1="434.80" x2="412.25" y2="437.20" stroke="#5a5a5a" stroke-width="1"/>
<line x1="428.50" y1="434.80" x2="428.50" y2="438.60" stroke="#5a5a5a" stroke-width="1"/>
<text x="0" y="0" transform="translate(428.50,450.70) scale(1,1.04)" font-size="13.1" text-anchor="middle" fill="#1a1a1a" >1000</text>
<line x1="444.75" y1="434.80" x2="444.75" y2="437.20" stroke="#5a5a5a" stroke-width="1"/>
<line x1="461.00" y1="434.80" x2="461.00" y2="438.60" stroke="#5a5a5a" stroke-width="1"/>
<text x="0" y="0" transform="translate(461.00,450.70) scale(1,1.04)" font-size="13.1" text-anchor="middle" fill="#1a1a1a" >1100</text>
<line x1="477.25" y1="434.80" x2="477.25" y2="437.20" stroke="#5a5a5a" stroke-width="1"/>
<line x1="493.50" y1="434.80" x2="493.50" y2="438.60" stroke="#5a5a5a" stroke-width="1"/>
<text x="0" y="0" transform="translate(493.50,450.70) scale(1,1.04)" font-size="13.1" text-anchor="middle" fill="#1a1a1a" >1200</text>
<line x1="509.75" y1="434.80" x2="509.75" y2="437.20" stroke="#5a5a5a" stroke-width="1"/>
<line x1="526.00" y1="434.80" x2="526.00" y2="438.60" stroke="#5a5a5a" stroke-width="1"/>
<text x="0" y="0" transform="translate(526.00,450.70) scale(1,1.04)" font-size="13.1" text-anchor="middle" fill="#1a1a1a" >1300</text>
<line x1="542.25" y1="434.80" x2="542.25" y2="437.20" stroke="#5a5a5a" stroke-width="1"/>
<line x1="363.50" y1="268.10" x2="363.50" y2="434.80" stroke="#7a7a7a" stroke-width="1.15"/>
<line x1="377.10" y1="268.10" x2="377.10" y2="434.80" stroke="#7a7a7a" stroke-width="1.15"/>
<line x1="405.10" y1="268.10" x2="405.10" y2="434.80" stroke="#7a7a7a" stroke-width="1.15"/>
<line x1="439.50" y1="268.10" x2="439.50" y2="434.80" stroke="#7a7a7a" stroke-width="1.15"/>
<line x1="464.40" y1="268.10" x2="464.40" y2="434.80" stroke="#7a7a7a" stroke-width="1.15"/>
<line x1="487.60" y1="268.10" x2="487.60" y2="434.80" stroke="#7a7a7a" stroke-width="1.15"/>
<polyline points="315.0,431.1 316.5,430.7 318.0,430.7 319.5,430.7 321.0,430.6 322.5,430.4 324.0,430.3 326.9,428.7 328.4,429.2 329.9,430.0 331.9,429.7 333.9,429.1 335.9,429.6 337.9,429.7 339.4,429.0 340.9,428.3 342.4,426.5 343.9,424.7 345.9,422.0 347.9,419.7 350.8,413.7 352.3,410.9 353.8,408.7 355.3,405.7 356.8,402.8 358.3,400.1 359.8,397.2 361.3,393.7 362.8,390.8 364.8,393.8 366.8,398.8 368.3,402.0 369.8,404.8 371.3,404.6 372.8,404.8 375.3,398.8 377.7,395.2 380.1,400.8 382.7,407.7 384.2,410.0 385.7,412.7 387.2,413.4 388.7,414.7 390.2,414.5 391.7,413.7 393.2,411.8 394.7,409.7 396.2,407.7 397.7,405.2 400.6,402.4 402.1,401.7 403.6,400.8 405.3,401.0 407.0,401.8 408.5,403.7 410.0,405.8 411.5,407.7 413.0,409.7 414.5,411.2 416.0,413.1 417.9,414.4 419.9,415.1 421.4,414.3 422.9,413.7 424.4,411.0 425.9,408.7 427.4,403.9 428.9,398.8 430.4,391.6 431.9,384.8 433.4,379.6 434.9,373.9 436.4,369.4 437.9,364.9 439.9,362.5 442.8,363.9 444.3,365.4 445.8,366.9 447.3,368.0 448.8,369.3 450.3,370.1 451.8,370.9 453.3,371.7 454.8,372.9 456.3,373.6 457.8,374.9 459.3,376.1 460.8,376.9 462.3,378.7 463.8,380.9 466.2,385.8 468.7,392.8 470.2,396.5 471.7,399.8 473.2,402.1 474.7,404.8 476.2,407.0 477.7,408.7 479.2,410.4 480.7,411.7 482.2,413.4 483.7,414.7 485.7,416.4 487.7,417.7 489.6,419.2 491.6,420.7 493.6,422.3 495.6,423.7 497.6,425.2 499.6,427.1 501.3,427.9 502.9,429.0 504.6,429.6 506.6,428.0 508.2,421.7 510.3,409.1 512.9,396.5 515.6,402.8 517.7,417.5 520.3,426.9 522.4,428.3 524.5,430.1 526.2,430.4 527.8,430.3 529.5,430.0 531.1,430.0 532.8,430.1 534.4,430.0 536.0,429.9 537.5,430.1 539.1,429.7 540.7,429.4 542.3,429.6" fill="none" stroke="#000000" stroke-width="1.45" stroke-linejoin="round" stroke-linecap="round"/>
<polyline points="315.0,425.7 316.5,426.0 318.0,425.7 319.5,424.5 321.0,423.7 322.5,423.9 324.0,424.7 326.9,424.3 328.4,425.3 329.9,425.7 331.4,426.0 332.9,426.7 334.4,425.5 335.9,424.7 337.4,422.8 338.9,420.7 340.4,419.8 341.9,419.1 343.4,419.9 344.9,420.3 346.4,418.3 347.9,416.7 350.8,409.7 352.3,407.5 353.8,404.8 355.3,402.7 356.8,400.8 358.3,399.1 359.8,397.2 362.2,393.8 364.8,396.8 366.3,399.1 367.8,400.8 369.3,402.4 370.8,403.8 372.3,403.1 373.8,401.8 376.1,395.8 377.7,393.8 379.7,397.8 382.1,401.8 384.1,403.2 386.7,400.8 388.2,398.4 389.7,395.8 391.7,390.8 393.7,381.9 395.7,374.9 397.2,371.1 398.7,367.9 401.6,363.9 403.1,363.6 404.6,362.9 407.2,362.5 410.0,366.9 411.5,369.0 413.0,370.9 414.5,373.3 416.0,375.9 418.9,379.9 420.4,380.7 421.9,381.9 423.7,382.8 425.5,383.2 427.9,379.9 429.4,376.9 430.9,373.9 432.4,371.2 433.9,367.9 435.4,365.6 436.9,362.9 438.4,361.7 439.9,359.9 442.8,363.9 444.3,365.4 445.8,366.9 447.3,368.5 448.8,369.9 450.3,372.5 451.8,374.9 453.3,375.8 454.8,376.9 456.3,376.0 457.8,374.5 459.3,373.8 460.8,373.3 462.3,374.8 463.8,375.9 466.2,381.9 468.7,389.8 470.2,393.1 471.7,395.8 473.2,397.9 474.7,399.8 476.2,401.1 477.7,402.8 479.2,404.0 480.7,404.8 482.2,405.9 483.7,406.8 485.7,407.8 487.7,409.1 489.6,411.1 491.6,413.7 493.6,416.2 495.6,418.7 497.6,420.9 499.6,423.7 501.3,425.0 502.9,425.8 504.6,426.9 506.6,425.9 508.2,419.6 510.3,407.0 512.9,397.6 515.6,402.8 517.7,417.5 520.3,424.8 521.8,425.1 523.4,425.3 525.0,425.7 526.5,425.9 528.1,425.9 529.6,425.2 531.2,425.0 532.8,424.8 534.9,423.8 537.0,422.7 538.6,421.5 540.2,420.6 542.3,422.7" fill="none" stroke="#ff0a0a" stroke-width="1.45" stroke-linejoin="round" stroke-linecap="round"/>
<polyline points="315.0,421.7 316.5,421.3 318.0,420.3 320.0,419.8 322.0,418.7 323.7,418.4 325.3,417.4 327.0,417.1 328.9,415.5 330.9,413.7 332.4,412.2 333.9,410.7 335.4,409.7 336.9,408.7 338.4,406.5 339.9,404.8 341.4,402.1 342.9,399.8 344.4,396.8 345.9,393.8 347.4,389.1 348.9,384.8 351.8,379.9 353.8,373.9 355.8,366.9 358.2,360.9 360.8,353.0 363.4,345.0 365.0,341.2 366.7,337.5 369.5,331.8 372.4,322.4 375.2,313.9 378.0,306.3 380.9,300.7 383.7,295.0 386.5,290.3 389.4,284.6 392.2,279.0 395.0,275.6 397.8,275.2 400.7,275.6 403.5,276.7 405.6,280.6 407.8,282.5 409.4,286.3 411.3,288.8 412.9,290.4 413.8,293.8 415.1,297.0 417.3,300.1 419.2,303.6 420.4,306.4 422.3,308.9 423.8,311.4 426.6,314.8 429.5,317.1 432.3,319.5 435.1,323.3 438.0,328.0 439.8,332.8 441.7,339.4 443.6,346.0 444.8,353.0 446.8,360.9 448.8,366.9 450.3,369.6 451.8,372.9 453.3,376.7 454.8,380.9 456.8,388.8 458.8,396.8 460.8,404.8 463.4,409.1 464.8,410.7 466.7,407.7 468.7,403.8 470.7,399.8 472.4,398.1 474.2,396.1 475.8,396.1 477.4,396.1 478.9,396.2 480.5,396.1 482.1,396.2 483.6,396.3 485.2,396.9 486.8,397.0 488.9,398.9 490.9,400.7 493.0,402.9 495.1,404.9 497.2,407.6 499.3,410.2 501.4,412.5 503.5,414.3 505.1,415.3 506.6,416.4 508.2,413.3 510.3,402.8 512.9,394.0 515.0,395.5 517.1,407.0 518.6,419.6 521.3,423.8 523.0,424.5 524.8,424.8 526.5,425.4 528.1,425.6 529.6,425.7 531.2,425.7 532.8,425.9 534.4,425.7 536.0,425.9 537.5,426.0 539.1,426.0 540.7,425.9 542.3,425.9" fill="none" stroke="#0f850f" stroke-width="1.45" stroke-linejoin="round" stroke-linecap="round"/>
<polyline points="315.0,427.1 316.5,427.0 318.0,426.7 319.5,425.9 321.0,424.7 322.5,424.0 324.0,423.7 326.9,424.3 328.4,424.8 329.9,424.7 331.4,424.3 332.9,424.3 334.4,424.8 335.9,425.1 337.4,423.7 338.9,422.7 340.4,421.4 341.9,419.7 343.4,417.5 344.9,415.7 346.4,412.8 347.9,409.7 350.8,401.8 352.3,398.9 353.8,395.8 355.3,392.0 356.8,387.8 358.3,385.3 359.8,382.8 361.3,381.9 362.8,380.5 365.4,381.9 367.8,383.8 369.8,383.8 371.8,378.9 374.2,373.9 376.7,368.9 378.2,369.0 379.7,368.5 381.2,367.5 382.7,366.9 384.2,364.9 385.7,362.9 387.2,360.2 388.7,357.0 390.2,352.7 392.0,348.5 394.0,344.2 395.9,341.0 397.7,337.6 399.6,334.8 401.5,332.0 404.3,329.5 406.2,330.1 408.1,331.0 409.7,333.8 411.2,335.8 412.8,338.6 414.4,341.3 415.9,343.8 417.5,346.1 419.1,347.5 420.7,349.1 422.3,350.8 424.1,351.4 426.0,352.2 427.6,351.6 429.2,350.9 430.8,350.3 432.4,349.8 433.9,349.0 435.5,348.0 438.3,348.0 441.1,350.8 443.0,353.7 443.8,357.0 445.3,359.8 446.8,362.9 448.3,366.1 449.8,368.9 451.3,372.1 452.8,375.9 454.3,378.7 455.8,381.9 457.3,383.9 458.8,385.8 460.3,387.5 461.8,388.8 463.3,390.5 464.8,391.8 467.7,395.8 469.2,398.6 470.7,400.8 472.2,402.5 473.7,403.8 475.2,404.7 476.7,405.8 478.2,406.6 479.7,407.2 481.7,408.0 483.7,408.3 485.7,409.3 487.7,410.7 489.6,413.2 491.6,415.7 493.6,418.5 495.6,421.7 497.6,424.0 499.6,426.7 501.3,427.8 502.9,429.1 504.6,430.1 506.6,431.1 508.2,425.9 510.3,407.0 512.9,391.9 515.6,398.6 517.7,415.4 519.2,425.9 520.8,428.0 522.4,429.6 524.0,429.6 525.5,430.1 527.0,430.6 528.6,430.5 530.1,430.5 531.6,430.2 533.2,429.8 534.7,429.9 536.2,429.5 537.7,429.6 539.3,429.4 540.8,429.1 542.3,429.0" fill="none" stroke="#0a0aff" stroke-width="1.45" stroke-linejoin="round" stroke-linecap="round"/>
<rect x="458" y="270" width="82" height="21" fill="#fff"/>
<text x="460.00" y="285.70" font-size="12.95" text-anchor="start" fill="#1a1a1a" >BTMSPA/NH<tspan font-size="7.6" dx="0.3" dy="3.2">3</tspan></text>
<line x1="357.10" y1="284.50" x2="374.56" y2="304.87" stroke="#2a2a2a" stroke-width="0.95"/><polygon points="376.90,307.60 373.42,305.84 375.70,303.89" fill="#2a2a2a"/>
<line x1="355.00" y1="315.80" x2="387.31" y2="352.30" stroke="#2a2a2a" stroke-width="0.95"/><polygon points="389.70,355.00 386.19,353.30 388.44,351.31" fill="#2a2a2a"/>
<line x1="355.40" y1="335.60" x2="392.34" y2="378.18" stroke="#2a2a2a" stroke-width="0.95"/><polygon points="394.70,380.90 391.21,379.16 393.47,377.20" fill="#2a2a2a"/>
<line x1="353.80" y1="357.00" x2="395.29" y2="403.12" stroke="#2a2a2a" stroke-width="0.95"/><polygon points="397.70,405.80 394.18,404.13 396.41,402.12" fill="#2a2a2a"/>
<text x="0" y="0" transform="translate(321.80,287.50) scale(1,1.04)" font-size="12.7" text-anchor="start" fill="#0f850f" font-weight="bold" >400<tspan font-size="10" dx="-0.1" dy="-3.4">&#176;</tspan><tspan dx="0.6" dy="3.4">C</tspan></text>
<text x="0" y="0" transform="translate(321.80,318.20) scale(1,1.04)" font-size="12.7" text-anchor="start" fill="#1010ff" font-weight="bold" >300<tspan font-size="10" dx="-0.1" dy="-3.4">&#176;</tspan><tspan dx="0.6" dy="3.4">C</tspan></text>
<text x="0" y="0" transform="translate(321.80,339.40) scale(1,1.04)" font-size="12.7" text-anchor="start" fill="#ff1010" font-weight="bold" >200<tspan font-size="10" dx="-0.1" dy="-3.4">&#176;</tspan><tspan dx="0.6" dy="3.4">C</tspan></text>
<text x="0" y="0" transform="translate(322.00,359.90) scale(1,1.04)" font-size="12.7" text-anchor="start" fill="#000000" font-weight="bold" >100<tspan font-size="10" dx="-0.1" dy="-3.4">&#176;</tspan><tspan dx="0.6" dy="3.4">C</tspan></text>
<text x="285.20" y="281.40" font-size="20.5" text-anchor="start" fill="#111" letter-spacing="0.85">(d)</text>
<text x="0" y="0" transform="translate(374.20,471.60) scale(1,1.04)" font-size="14.95" text-anchor="start" fill="#111" >Wavenumer, cm<tspan font-size="8.2" font-weight="bold" dx="0.2" dy="-7.6">&#8722;</tspan><tspan font-size="7.6" dx="0.1">1</tspan></text>
</svg>
</body></html>
